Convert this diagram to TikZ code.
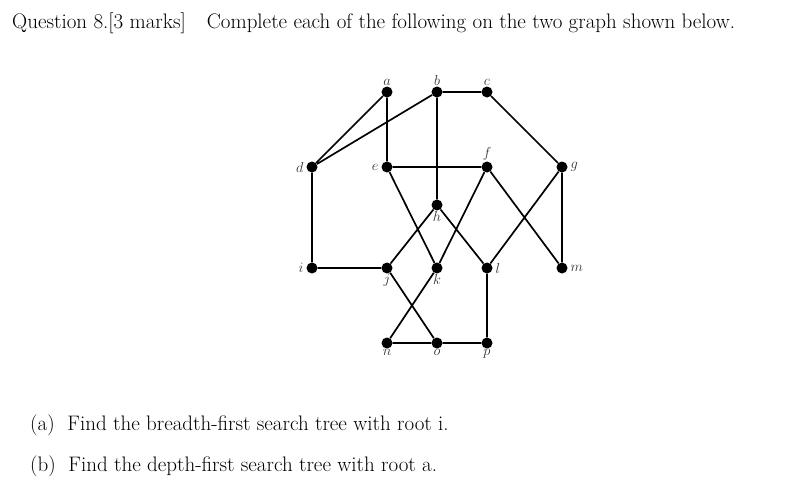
\documentclass[tikz,border=0pt]{standalone}
\begin{document}
\begin{tikzpicture}[x=1pt,y=-1pt,
  v/.style={circle,fill=black,inner sep=0pt,minimum size=11pt},
  lab/.style={font=\fontsize{15}{17}\selectfont,text=black!80},
  ed/.style={line width=1.7pt},
  txt/.style={font=\fontsize{21}{24}\selectfont,anchor=west,inner sep=0pt}]
\useasboundingbox (0,0) rectangle (807,483);
\node[v] (a) at (387,92) {};
\node[v] (b) at (437,92) {};
\node[v] (c) at (487,92) {};
\node[v] (d) at (312,167) {};
\node[v] (e) at (387,167) {};
\node[v] (f) at (487,167) {};
\node[v] (g) at (562,167) {};
\node[v] (h) at (437,205) {};
\node[v] (i) at (312,268) {};
\node[v] (j) at (387,268) {};
\node[v] (k) at (437,268) {};
\node[v] (l) at (487,268) {};
\node[v] (m) at (562,268) {};
\node[v] (n) at (387,343) {};
\node[v] (o) at (437,343) {};
\node[v] (p) at (487,343) {};
\node[lab,above=3pt] at (a) {$a$};
\node[lab,above=3pt] at (b) {$b$};
\node[lab,above=3pt] at (c) {$c$};
\node[lab,left=5pt] at (d) {$d$};
\node[lab,left=5pt] at (e) {$e$};
\node[lab,above=3pt] at (f) {$f$};
\node[lab,right=5pt] at (g) {$g$};
\node[lab,below=3pt] at (h) {$h$};
\node[lab,left=5pt] at (i) {$i$};
\node[lab,below=3pt] at (j) {$j$};
\node[lab,below=3pt] at (k) {$k$};
\node[lab,right=5pt] at (l) {$l$};
\node[lab,right=5pt] at (m) {$m$};
\node[lab,below=3pt] at (n) {$n$};
\node[lab,below=3pt] at (o) {$o$};
\node[lab,below=3pt] at (p) {$p$};
\draw[ed] (a)--(d) (b)--(d) (a)--(e) (b)--(c) (b)--(h) (c)--(g) (d)--(i)
  (e)--(f) (e)--(k) (f)--(k) (h)--(j) (h)--(l) (f)--(m) (g)--(l) (g)--(m)
  (i)--(j) (j)--(o) (k)--(n) (n)--(o) (o)--(p) (l)--(p);
\node[txt] (t) at (12,23) {Question 8.[3 marks]\quad Complete each of the following on the two graph shown below.};
\node[txt] (qa) at (30,425) {(a)\ \ Find the breadth-first search tree with root i.};
\node[txt] (qb) at (30,466) {(b)\ \ Find the depth-first search tree with root a.};
\end{tikzpicture}
\end{document}
